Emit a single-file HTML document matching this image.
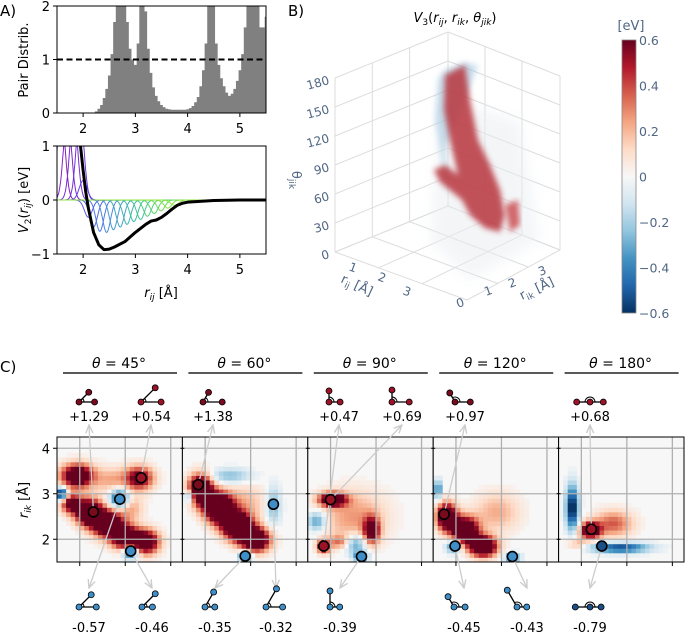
<!DOCTYPE html>
<html><head><meta charset="utf-8"><style>
html,body{margin:0;padding:0;background:#fff}
svg{display:block;font-family:"DejaVu Sans","Liberation Sans",sans-serif}
</style></head><body>
<svg id="fig" width="685" height="632" viewBox="0 0 685 632" xmlns="http://www.w3.org/2000/svg">
<defs>
<linearGradient id="cbg" x1="0" y1="0" x2="0" y2="1">
<stop offset="0" stop-color="#67001f"/><stop offset="0.1" stop-color="#b2182b"/><stop offset="0.2" stop-color="#d6604d"/><stop offset="0.3" stop-color="#f4a582"/><stop offset="0.4" stop-color="#fddbc7"/><stop offset="0.5" stop-color="#f7f7f7"/><stop offset="0.6" stop-color="#d1e5f0"/><stop offset="0.7" stop-color="#92c5de"/><stop offset="0.8" stop-color="#4393c3"/><stop offset="0.9" stop-color="#2166ac"/><stop offset="1" stop-color="#053061"/>
</linearGradient>
<filter id="blur3"><feGaussianBlur stdDeviation="3"/></filter>
<filter id="blur6"><feGaussianBlur stdDeviation="6"/></filter>
<marker id="arr" viewBox="0 0 10 10" refX="9" refY="5" markerWidth="7" markerHeight="7" orient="auto-start-reverse"><path d="M0,1 L9,5 L0,9" fill="none" stroke="#cccccc" stroke-width="1.5"/></marker>
</defs>
<g id="panelA"></g>
<g id="panelB"></g>
<g id="panelC"></g>
</svg>
<script>
// ---------- Panel A data ----------
const gR = [1.5,1.55,1.6,1.65,1.7,1.75,1.8,1.85,1.9,1.95,2.0,2.05,2.1,2.15,2.2,2.25,2.3,2.35,2.4,2.45,2.5,2.55,2.6,2.65,2.7,2.75,2.8,2.85,2.9,2.95,3.0,3.05,3.1,3.15,3.2,3.25,3.3,3.35,3.4,3.45,3.5,3.55,3.6,3.65,3.7,3.75,3.8,3.85,3.9,3.95,4.0,4.05,4.1,4.15,4.2,4.25,4.3,4.35,4.4,4.45,4.5,4.55,4.6,4.65,4.7,4.75,4.8,4.85,4.9,4.95,5.0,5.05,5.1,5.15,5.2,5.25,5.3,5.35,5.4,5.45,5.5];
const gVal = [0,0,0,0,0,0,0,0,0,0,0,0,0,0,0.01,0.03,0.08,0.15,0.28,0.45,0.7,1.1,1.7,2.3,2.6,2.6,2.3,1.7,1.2,1.0,0.9,1.3,2.1,2.3,1.9,1.2,0.75,0.48,0.32,0.22,0.15,0.11,0.08,0.07,0.06,0.06,0.06,0.06,0.06,0.06,0.07,0.09,0.13,0.2,0.3,0.5,0.8,1.3,2.0,2.4,2.0,1.3,0.9,0.65,0.5,0.38,0.32,0.36,0.45,0.6,0.8,1.1,1.6,2.2,2.6,2.6,2.3,2.0,1.6,1.6,1.8];
const vR = [1.9,1.95,2.0,2.05,2.1,2.2,2.3,2.4,2.5,2.6,2.8,3.0,3.2,3.3,3.4,3.5,3.6,3.7,3.8,3.9,4.0,4.5,5.0,5.5];
const vTot = [2.5,1.0,0.55,0.15,-0.15,-0.6,-0.83,-0.92,-0.91,-0.87,-0.77,-0.6,-0.45,-0.39,-0.37,-0.32,-0.25,-0.17,-0.1,-0.06,-0.04,-0.01,0,0];
const basisCenters = [1.58,1.7,1.82,1.94,2.0,2.1,2.2,2.32,2.45,2.58,2.71,2.84,2.97,3.1,3.23,3.36,3.49,3.62,3.75];
const basisAmp = [1.6,1.6,1.6,1.6,0.36,-0.32,-0.5,-0.58,-0.6,-0.55,-0.5,-0.45,-0.4,-0.36,-0.3,-0.25,-0.2,-0.15,-0.1];
const aXTicks = [2,3,4,5];
const gYTicks = [0,1,2];
const vYTicks = [-1,0,1];

// ---------- Panel B data ----------
const cbTicks = [0.6,0.4,0.2,0,-0.2,-0.4,-0.6];
const thetaTicks = [0,30,60,90,120,150,180];

// ---------- Panel C data ----------
const angles = [45,60,90,120,180];
// blobs per panel: [r_ij, r_ik, sigma_ij, sigma_ik, amplitude eV]
const blobs45 = [[1.95,3.4,0.25,0.18,1.2],[1.8,2.8,0.15,0.15,0.9],[2.2,2.6,0.2,0.2,1.4],[2.6,2.35,0.22,0.2,1.4],[3.0,2.05,0.2,0.18,1.3],[3.45,1.95,0.2,0.18,1.2],[1.6,3.0,0.1,0.1,-1.0],[2.88,2.9,0.15,0.15,-0.9],[3.3,3.35,0.22,0.18,0.9],[3.12,1.72,0.12,0.1,-0.9],[2.7,3.3,0.25,0.2,0.3],[3.1,2.7,0.2,0.2,0.35]];
const blobs60 = [[1.9,3.1,0.18,0.22,1.5],[2.3,2.7,0.22,0.22,1.6],[2.7,2.3,0.22,0.2,1.6],[3.1,2.0,0.22,0.18,1.4],[2.55,3.4,0.35,0.12,-0.35],[3.5,2.75,0.12,0.3,-0.4],[2.88,1.63,0.1,0.08,-0.8],[1.65,2.95,0.08,0.1,-0.6],[2.9,2.8,0.35,0.3,0.25]];
const blobs90 = [[2.05,2.88,0.2,0.1,1.3],[1.85,1.85,0.1,0.1,0.9],[2.9,2.2,0.12,0.2,1.0],[2.5,2.5,0.5,0.4,0.35],[1.7,2.4,0.15,0.15,-0.5],[2.55,1.9,0.18,0.15,-0.5],[2.66,1.62,0.12,0.08,-0.6],[2.2,1.95,0.15,0.1,0.4]];
const blobs120 = [[1.8,2.5,0.15,0.2,1.4],[2.2,2.2,0.2,0.2,1.4],[2.6,1.85,0.2,0.15,1.5],[2.9,2.6,0.35,0.3,0.3],[1.6,3.1,0.06,0.15,-0.6],[1.95,1.85,0.12,0.1,-0.6],[3.24,1.6,0.12,0.07,-0.6]];
const blobs180 = [[1.8,2.7,0.1,0.35,-0.9],[2.2,2.2,0.15,0.12,1.3],[2.7,2.35,0.3,0.2,0.5],[2.85,1.82,0.45,0.08,-0.75],[1.9,1.9,0.15,0.1,0.3]];
const markers45 = [[2.3,2.6],[2.88,2.88],[3.35,3.35],[3.12,1.74]];
const markers60 = [[1.85,3.2],[2.88,1.63],[3.5,2.77]];
const markers90 = [[2.0,2.87],[1.85,1.85],[2.68,1.62]];
const markers120 = [[1.74,2.55],[1.98,1.85],[3.24,1.62]];
const markers180 = [[2.22,2.22],[2.45,1.85]];
// annotations: [panel index, marker index, energy]
const annotations = [[0,0,1.29],[0,2,0.54],[0,1,-0.57],[0,3,-0.46],[1,0,1.38],[1,1,-0.35],[1,2,-0.32],[2,1,0.47],[2,0,0.69],[2,2,-0.39],[3,0,0.97],[3,1,-0.45],[3,2,-0.43],[4,0,0.68],[4,1,-0.79]];
const annotX = [89,151,89,152,213,215,276,339,402,340,465,464,527,590,590];
const ikTicks = [2,3,4];
</script>
<script>
const NS="http://www.w3.org/2000/svg";
function mk(parent,tag,attrs,text){const e=document.createElementNS(NS,tag);for(const k in attrs)e.setAttribute(k,attrs[k]);if(text!==undefined)e.textContent=text;parent.appendChild(e);return e;}
const A=document.getElementById('panelA');
let t=mk(A,'text',{x:0,y:16,'font-size':15},'A)');


const ax=r=>57+(r-1.5)*52.25;
const gy=v=>113-v*53.5;
const vy=v=>200-v*54;
const gTop=mk(A,'g',{});


const cpG=mk(gTop,'clipPath',{id:'clipG'});mk(cpG,'rect',{x:57,y:6,width:209,height:107});
let d='M'+ax(gR[0])+','+gy(0);
for(let i=0;i<gR.length;i++){const x0=ax(gR[i]-0.025),x1=ax(gR[i]+0.025);d+=' L'+x0+','+gy(gVal[i])+' L'+x1+','+gy(gVal[i]);}
d+=' L'+ax(5.6)+','+gy(0)+'Z';
let area=mk(gTop,'path',{d:d,fill:'#808080','clip-path':'url(#clipG)'});


let dash=mk(gTop,'line',{x1:57,x2:266,y1:gy(1),y2:gy(1),stroke:'#000','stroke-width':2,'stroke-dasharray':'6,3.5'});


mk(gTop,'rect',{x:57,y:6,width:209,height:107,fill:'none',stroke:'#000','stroke-width':1});
for(const v of aXTicks){mk(gTop,'line',{x1:ax(v),x2:ax(v),y1:113,y2:117,stroke:'#000'});
 const tl=mk(gTop,'text',{x:ax(v),y:133,'font-size':13,'text-anchor':'middle'},String(v));
 }
for(const v of gYTicks){mk(gTop,'line',{x1:53,x2:57,y1:gy(v),y2:gy(v),stroke:'#000'});
 const tl=mk(gTop,'text',{x:50,y:gy(v)+5,'font-size':13,'text-anchor':'end'},String(v));
 }
let yl=mk(gTop,'text',{x:0,y:0,'font-size':13,'text-anchor':'middle',transform:'translate(28,60) rotate(-90)'},'Pair Distrib.');

const gBot=mk(A,'g',{});


const cp=mk(gBot,'clipPath',{id:'clipV'});mk(cp,'rect',{x:57,y:146,width:209,height:108});
const colors=['#8a1fb5','#8524c8','#7a2ad8','#6a35e0','#5b44e6','#5a55e8','#5066e6','#4a78e2','#4889da','#4697d0','#43a5c4','#40b2b5','#3ebda4','#42c690','#4dcf7c','#5cd66a','#6cdc58','#7fe14a','#8fe540'];
for(let k=0;k<basisCenters.length;k++){
 let p='';for(let r=1.5;r<=5.5;r+=0.01){const v=basisAmp[k]*Math.exp(-Math.pow((r-basisCenters[k])/0.075,2)/2);p+=(p?' L':'M')+ax(r).toFixed(1)+','+vy(v).toFixed(1);}
 const bl=mk(gBot,'path',{d:p,fill:'none',stroke:colors[k],'stroke-width':1,'clip-path':'url(#clipV)'});
 
}
let p2='';for(let i=0;i<vR.length;i++)p2+=(i?' L':'M')+ax(vR[i])+','+vy(vTot[i]);
const tot=mk(gBot,'path',{d:p2,fill:'none',stroke:'#000','stroke-width':3,'stroke-linejoin':'round','clip-path':'url(#clipV)'});

mk(gBot,'rect',{x:57,y:146,width:209,height:108,fill:'none',stroke:'#000'});
for(const v of aXTicks){mk(gBot,'line',{x1:ax(v),x2:ax(v),y1:254,y2:258,stroke:'#000'});
 const tl=mk(gBot,'text',{x:ax(v),y:274,'font-size':13,'text-anchor':'middle'},String(v));
 }
for(const v of vYTicks){mk(gBot,'line',{x1:53,x2:57,y1:vy(v),y2:vy(v),stroke:'#000'});
 const tl=mk(gBot,'text',{x:50,y:vy(v)+5,'font-size':13,'text-anchor':'end'},v<0?'−1':String(v));
 }
const yl2=mk(gBot,'text',{'font-size':13,'text-anchor':'middle',transform:'translate(28,200) rotate(-90)'});
yl2.innerHTML='<tspan font-style="italic">V</tspan><tspan font-size="9" dy="3">2</tspan><tspan dy="-3">(</tspan><tspan font-style="italic">r</tspan><tspan font-size="9" font-style="italic" dy="3">ij</tspan><tspan dy="-3">) [eV]</tspan>';

const xl=mk(gBot,'text',{x:161,y:297,'font-size':13,'text-anchor':'middle'});
xl.innerHTML='<tspan font-style="italic">r</tspan><tspan font-size="9" font-style="italic" dy="3">ij</tspan><tspan dy="-3"> [Å]</tspan>';


// ---------- Panel B ----------
const B=document.getElementById('panelB');
const bl=mk(B,'text',{x:288,y:16,'font-size':15},'B)');

const bt=mk(B,'text',{x:455,y:22,'font-size':13,'text-anchor':'middle'});
bt.innerHTML='<tspan font-style="italic">V</tspan><tspan font-size="9" dy="3">3</tspan><tspan dy="-3">(</tspan><tspan font-style="italic">r</tspan><tspan font-size="9" font-style="italic" dy="3">ij</tspan><tspan dy="-3">, </tspan><tspan font-style="italic">r</tspan><tspan font-size="9" font-style="italic" dy="3">ik</tspan><tspan dy="-3">, </tspan><tspan font-style="italic">θ</tspan><tspan font-size="9" font-style="italic" dy="3">jik</tspan><tspan dy="-3">)</tspan>';

const grid=mk(B,'g',{stroke:'#dddddd','stroke-width':1,fill:'none'});

const thY=v=>252-v/180*174;
mk(grid,'line',{x1:335,y1:78,x2:335,y2:252});mk(grid,'line',{x1:448,y1:32,x2:448,y2:206});
for(const v of thetaTicks){mk(grid,'line',{x1:335,y1:thY(v),x2:448,y2:thY(v)-46});mk(grid,'line',{x1:448,y1:thY(v)-46,x2:560,y2:thY(v)-2});}
for(const f of [0.33,0.66]){mk(grid,'line',{x1:335+113*f,y1:78-46*f,x2:335+113*f,y2:252-46*f});mk(grid,'line',{x1:448+112*f,y1:32+44*f,x2:448+112*f,y2:206+44*f});}
mk(grid,'line',{x1:560,y1:76,x2:560,y2:250});
for(const f of [0,0.33,0.66,1]){mk(grid,'line',{x1:335+132*f,y1:252+48*f,x2:448+112*f,y2:206+44*f});mk(grid,'line',{x1:335+113*f,y1:252-46*f,x2:467+93*f,y2:300-50*f});}
for(const v of thetaTicks){const tl=mk(B,'text',{x:329,y:thY(v)+6,'font-size':12,'text-anchor':'end',fill:'#506784',transform:'rotate(-15 329 '+(thY(v)+2)+')'},String(v));
 }
const rijT=[[348,270,'1'],[377,280,'2'],[402,294,'3']];
for(const q of rijT){const tl=mk(B,'text',{x:q[0],y:q[1],'font-size':12,fill:'#506784',transform:'rotate(20 '+q[0]+' '+q[1]+')'},q[2]);}
const rikT=[[458,308,'0'],[486,296,'1'],[510,288,'2'],[540,276,'3']];
for(const q of rikT){const tl=mk(B,'text',{x:q[0],y:q[1],'font-size':12,fill:'#506784',transform:'rotate(-20 '+q[0]+' '+q[1]+')'},q[2]);}
const thl=mk(B,'text',{'font-size':13,fill:'#506784','text-anchor':'middle',transform:'translate(292,180) rotate(90)'});
thl.innerHTML='θ<tspan font-size="9" dy="3">jik</tspan>';
const rijl=mk(B,'text',{'font-size':13,fill:'#506784',transform:'translate(340,282) rotate(25)'});
rijl.innerHTML='r<tspan font-size="9" dy="3">ij</tspan><tspan dy="-3"> [Å]</tspan>';
const rikl=mk(B,'text',{'font-size':13,fill:'#506784',transform:'translate(522,300) rotate(-25)'});
rikl.innerHTML='r<tspan font-size="9" dy="3">ik</tspan><tspan dy="-3"> [Å]</tspan>';
const vol=mk(B,'g',{});
mk(vol,'path',{d:'M440,100 L520,120 L540,240 L470,280 L430,240 Z',fill:'#e8edf1',opacity:0.5,filter:'url(#blur6)'});
mk(vol,'path',{d:'M438,78 L445,70 L465,62 L478,66 L445,150 L448,195 L442,160 L435,120 Z',fill:'#9ec4dd',opacity:0.55,filter:'url(#blur3)'});
mk(vol,'path',{d:'M445,75 L465,65 L470,100 L478,140 L490,165 L500,190 L505,215 L500,232 L485,228 L470,215 L462,200 L440,182 L434,170 L445,165 L458,175 L450,140 L444,110 Z',fill:'#b8363e',opacity:0.85,filter:'url(#blur3)'});
mk(vol,'path',{d:'M505,205 L518,200 L520,225 L510,232 Z',fill:'#c8454a',opacity:0.8,filter:'url(#blur3)'});
const cb=mk(B,'g',{});
mk(cb,'rect',{x:622,y:40,width:14,height:273,fill:'url(#cbg)',stroke:'#888','stroke-width':0.8});
const cbY=v=>40+(0.6-v)/1.2*273;
for(const v of cbTicks){const tl=mk(cb,'text',{x:639,y:cbY(v)+5,'font-size':12.5,fill:'#506784'},v<0?'−'+Math.abs(v):String(v));
 }
const cbt=mk(cb,'text',{x:631,y:30,'font-size':13,fill:'#506784','text-anchor':'middle'},'[eV]');


// ---------- Panel C ----------
const C=document.getElementById('panelC');
const cl=mk(C,'text',{x:0,y:372,'font-size':15},'C)');
const stops=[[-1,[5,48,97]],[-0.8,[33,102,172]],[-0.6,[67,147,195]],[-0.4,[146,197,222]],[-0.2,[209,229,240]],[0,[247,247,247]],[0.2,[253,219,199]],[0.4,[244,165,130]],[0.6,[214,96,77]],[0.8,[178,24,43]],[1,[103,0,31]]];
function cmap(v){v=Math.max(-1,Math.min(1,v));for(let i=0;i<stops.length-1;i++){if(v<=stops[i+1][0]){const f=(v-stops[i][0])/(stops[i+1][0]-stops[i][0]);const a=stops[i][1],b=stops[i+1][1];return 'rgb('+a.map((c,j)=>Math.round(c+(b[j]-c)*f)).join(',')+')';}}return 'rgb(103,0,31)';}
const panelBlobs=[blobs45,blobs60,blobs90,blobs120,blobs180];
const panelMarkers=[markers45,markers60,markers90,markers120,markers180];
const lefts=[57,182.4,307.8,433.2,558.6];
const PW=125.4;
const PX=45.5,bottom=562;
const cx=(p,r)=>lefts[p]+(r-1.5)*PX;
const cy=r=>bottom-(r-1.5)*PX;
const cell=0.1;
for(let p=0;p<5;p++){
 const g=mk(C,'g',{});
 const w=PW;
 mk(g,'rect',{x:lefts[p],y:437,width:w,height:125,fill:'#f7f7f7'});
 for(let i=0;i<27;i++)for(let j=0;j<28;j++){
  const rij=1.5+cell*(i+0.5),rik=1.5+cell*(j+0.5);let v=0;
  for(const b of panelBlobs[p])v+=b[4]*Math.exp(-(Math.pow((rij-b[0])/b[2],2)+Math.pow((rik-b[1])/b[3],2))/2);
  if(Math.abs(v)<0.03)continue;
  const c=mk(g,'rect',{x:cx(p,rij-cell/2).toFixed(2),y:cy(rik+cell/2).toFixed(2),width:(cell*PX+0.4).toFixed(2),height:(cell*PX+0.4).toFixed(2),fill:cmap(v/0.8)});
  
 }
 for(const v of ikTicks){mk(g,'line',{x1:lefts[p],x2:lefts[p]+w,y1:cy(v),y2:cy(v),stroke:'#b0b0b0','stroke-width':1.3});
  mk(g,'line',{x1:cx(p,v),x2:cx(p,v),y1:437,y2:562,stroke:'#b0b0b0','stroke-width':1.3});
  mk(g,'line',{x1:cx(p,v),x2:cx(p,v),y1:562,y2:566,stroke:'#000'});
  if(p>0)mk(g,'line',{x1:lefts[p]-2,x2:lefts[p]+2,y1:cy(v),y2:cy(v),stroke:'#000'});}
 mk(g,'rect',{x:lefts[p],y:437,width:w,height:125,fill:'none',stroke:'#000'});
 const tt=mk(C,'text',{x:lefts[p]+62,y:368,'font-size':14,'text-anchor':'middle'});
 tt.innerHTML='<tspan font-style="italic">θ</tspan> = '+angles[p]+'°';
 
 mk(C,'line',{x1:lefts[p]+6,x2:lefts[p]+120,y1:373,y2:373,stroke:'#222','stroke-width':1.5});
}
for(const v of ikTicks){mk(C,'line',{x1:53,x2:57,y1:cy(v),y2:cy(v),stroke:'#000'});
 const tl=mk(C,'text',{x:50,y:cy(v)+5,'font-size':13,'text-anchor':'end'},String(v));
 }
const cyl=mk(C,'text',{'font-size':13,'text-anchor':'middle',transform:'translate(28,500) rotate(-90)'});
cyl.innerHTML='<tspan font-style="italic">r</tspan><tspan font-size="9" font-style="italic" dy="3">ik</tspan><tspan dy="-3"> [Å]</tspan>';

for(let a=0;a<annotations.length;a++){
 const [p,mi,e]=annotations[a];const m=panelMarkers[p][mi];const top=e>0;
 const mxp=cx(p,m[0]),myp=cy(m[1]);const lx=annotX[a];
 const ar=mk(C,'line',{x1:mxp,y1:myp,x2:lx,y2:top?425:588,stroke:'#cccccc','stroke-width':1.3,'marker-end':'url(#arr)'});
 
 const col=top?(e>0.9?'#7a0a1e':'#9c1226'):(e<-0.7?'#1c4f85':'#3f8ec8');
 const mk1=mk(C,'circle',{cx:mxp,cy:myp,r:5,fill:col,stroke:'#000','stroke-width':1.6});
 
 const lt=mk(C,'text',{x:lx,y:top?421:632,'font-size':13,'text-anchor':'middle'},(top?'+':'-')+Math.abs(e).toFixed(2));
 
 const ig=mk(C,'g',{});
 const ang=angles[p]*Math.PI/180;const by=top?402:607;
 const sc=6;const ix=(angles[p]==180)?lx:lx-10;
 const kx=ix+m[1]*sc,ky=by;
 const jx=ix+Math.cos(ang)*m[0]*sc,jy=by-Math.sin(ang)*m[0]*sc;
 mk(ig,'line',{x1:ix,y1:by,x2:kx,y2:ky,stroke:'#000','stroke-width':1.3});
 mk(ig,'line',{x1:ix,y1:by,x2:jx,y2:jy,stroke:'#000','stroke-width':1.3});
 const R=5;mk(ig,'path',{d:'M'+(ix+R)+','+by+' A'+R+','+R+' 0 0 0 '+(ix+R*Math.cos(ang)).toFixed(2)+','+(by-R*Math.sin(ang)).toFixed(2),fill:'none',stroke:'#000','stroke-width':1});
 for(const q of [[ix,by],[kx,ky],[jx,jy]])mk(ig,'circle',{cx:q[0],cy:q[1],r:3,fill:col,stroke:'#000','stroke-width':0.8});
}
</script>
</body></html>
